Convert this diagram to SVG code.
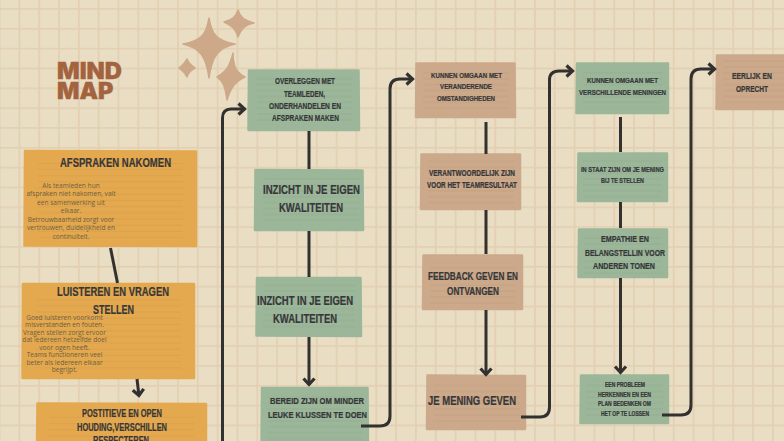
<svg xmlns="http://www.w3.org/2000/svg" width="784" height="441" viewBox="0 0 784 441">
<style>
.g{fill:#9cb699;stroke:#9cb699}.o{fill:#e4a84f;stroke:#e4a84f}.b{fill:#cca98a;stroke:#cca98a}
.g,.o,.b{stroke-width:2.5;stroke-linejoin:round}
text{font-family:"Liberation Sans",Arial,sans-serif;font-weight:700;fill:#363739;stroke:#363739;stroke-width:.22}
.s65{font-size:6.5px}.s75{font-size:7.500px}.s83{font-size:8.300px}.s88{font-size:8.800px}.s93{font-size:9.300px}.s105{font-size:10.500px}.s125{font-size:12.500px}.s13{font-size:13px}
text.p{font-family:"Open Sans",sans-serif;font-weight:400;font-size:6.600px;fill:#6f5f42;stroke:none;text-anchor:middle}
text.m{font-family:"Inter",sans-serif;font-weight:900;font-size:22.500px;fill:#a4633f;stroke:#a4633f;stroke-width:.3}
.c{fill:none;stroke:#33312f;stroke-width:3}
.a{marker-end:url(#chev)}
.star{fill:#cda98a;stroke:#cda98a;stroke-width:1.5;stroke-linejoin:round}
</style>
<defs>
<pattern id="grid" patternUnits="userSpaceOnUse" x="18.4" y="8.1" width="19.83" height="19.83"><path d="M0 0H1.800V19.83H0ZM0 0H19.83V1.800H0Z" fill="#e3d0b3"/></pattern>
<pattern id="rg" patternUnits="userSpaceOnUse" width="10" height="5.9"><path d="M0 2H10" stroke="#8eab8c" stroke-width=".7"/></pattern>
<pattern id="ro" patternUnits="userSpaceOnUse" width="10" height="6.2"><path d="M0 2H10" stroke="#d59e47" stroke-width=".7"/></pattern>
<pattern id="rb" patternUnits="userSpaceOnUse" width="10" height="5.9"><path d="M0 2H10" stroke="#c09c7e" stroke-width=".7"/></pattern>
<marker id="chev" markerUnits="userSpaceOnUse" markerWidth="16" markerHeight="16" viewBox="-10 -8 16 16" refX="0" refY="0" orient="auto"><path d="M-6.5-5.500L-.5 0L-6.500 5.500" fill="none" stroke="#33312f" stroke-width="3.200"/></marker>
</defs>
<rect width="784" height="441" fill="#e9dec3"/>
<rect width="784" height="441" fill="url(#grid)"/>
<g id="decor">
<path class="star" d="M209 18C212 36 218 41 235 44C218 48 212 56 209 78C206 56 200 48 183 44C200 41 206 36 209 18Z"/>
<path class="star" d="M238 10C240 17 244 20 254 23C245 25 241 29 238 37C236 29 232 26 224 22C232 20 236 17 238 10Z"/>
<path class="star" d="M187 59C188 63 191 65 195 68C191 70 188 73 187 77C185 73 183 71 179 68C183 65 185 63 187 59Z"/>
<path class="star" d="M233 53C233 66 236 72 245 77C236 81 231 87 227 100C225 87 224 82 217 77C226 72 230 66 233 53Z"/>
</g>
<g id="title"><text class="m" x="57" y="78.500" textLength="65" lengthAdjust="spacingAndGlyphs">MIND</text><text class="m" x="57" y="98.500" textLength="56.500" lengthAdjust="spacingAndGlyphs">MAP</text></g>

<g id="n1"><path class="o" d="M25 151L196 151.500L196 246L24.500 245.500Z"/><rect x="38" y="163" width="145" height="75" fill="url(#ro)"/>
<text class="s13" x="60" y="166.700" textLength="111" lengthAdjust="spacingAndGlyphs">AFSPRAKEN NAKOMEN</text>
<text class="p" x="71" y="187.500">Als teamleden hun</text><text class="p" x="71" y="196">afspraken niet nakomen, valt</text><text class="p" x="71" y="204.500">een samenwerking uit</text><text class="p" x="71" y="213">elkaar.</text><text class="p" x="71" y="221.500">Betrouwbaarheid zorgt voor</text><text class="p" x="71" y="230">vertrouwen, duidelijkheid en</text><text class="p" x="71" y="238.500">continuïteit.</text></g>
<g id="n2"><path class="o" d="M23 284L194 284L194 378L22.500 378Z"/><rect x="36" y="295" width="145" height="75" fill="url(#ro)"/>
<text class="s125" x="57" y="295.500" textLength="112" lengthAdjust="spacingAndGlyphs">LUISTEREN EN VRAGEN</text><text class="s125" x="93" y="313.500" textLength="41" lengthAdjust="spacingAndGlyphs">STELLEN</text>
<text class="p" x="64.500" y="319.500">Goed luisteren voorkomt</text><text class="p" x="64.500" y="327">misverstanden en fouten.</text><text class="p" x="64.500" y="334.500">Vragen stellen zorgt ervoor</text><text class="p" x="64.500" y="342">dat iedereen hetzelfde doel</text><text class="p" x="64.500" y="349.500">voor ogen heeft.</text><text class="p" x="64.500" y="357">Teams functioneren veel</text><text class="p" x="64.500" y="364.500">beter als iedereen elkaar</text><text class="p" x="64.500" y="372">begrijpt.</text></g>
<g id="n3"><path class="o" d="M37.500 403.500L206 404L206 445L37 445Z"/><rect x="49" y="415" width="145" height="30" fill="url(#ro)"/>
<text class="s105" x="82" y="417" textLength="80" lengthAdjust="spacingAndGlyphs">POSTITIEVE EN OPEN</text><text class="s105" x="77" y="431" textLength="90" lengthAdjust="spacingAndGlyphs">HOUDING,VERSCHILLEN</text><text class="s105" x="93" y="444" textLength="56" lengthAdjust="spacingAndGlyphs">RESPECTEREN</text></g>

<g id="n4"><path class="g" d="M249 70.500L358.500 70.500L359 130L248.500 130Z"/><rect x="257" y="76" width="95" height="49" fill="url(#rg)"/>
<text class="s88" x="275" y="84.200" textLength="60" lengthAdjust="spacingAndGlyphs">OVERLEGGEN MET</text><text class="s88" x="284" y="96.700" textLength="41" lengthAdjust="spacingAndGlyphs">TEAMLEDEN,</text><text class="s88" x="269" y="109" textLength="72" lengthAdjust="spacingAndGlyphs">ONDERHANDELEN EN</text><text class="s88" x="272" y="121" textLength="67" lengthAdjust="spacingAndGlyphs">AFSPRAKEN MAKEN</text></g>
<g id="n5"><path class="g" d="M255.500 170L362.500 170.500L363 230L255 230Z"/><rect x="263" y="177" width="96" height="47" fill="url(#rg)"/>
<text class="s13" x="263" y="193.700" textLength="97" lengthAdjust="spacingAndGlyphs">INZICHT IN JE EIGEN</text><text class="s13" x="279" y="211.700" textLength="64" lengthAdjust="spacingAndGlyphs">KWALITEITEN</text></g>
<g id="n6"><path class="g" d="M257 278L360.500 278L361 336L256.500 335.500Z"/><rect x="263" y="284" width="92" height="47" fill="url(#rg)"/>
<text class="s13" x="257" y="304.700" textLength="96" lengthAdjust="spacingAndGlyphs">INZICHT IN JE EIGEN</text><text class="s13" x="273" y="322.700" textLength="64" lengthAdjust="spacingAndGlyphs">KWALITEITEN</text></g>
<g id="n7"><path class="g" d="M262 388L367.500 388L368 450L261.500 450Z"/><rect x="268" y="393" width="94" height="57" fill="url(#rg)"/>
<text class="s93" x="270" y="404.300" textLength="94" lengthAdjust="spacingAndGlyphs">BEREID ZIJN OM MINDER</text><text class="s93" x="268" y="418.300" textLength="99" lengthAdjust="spacingAndGlyphs">LEUKE KLUSSEN TE DOEN</text></g>

<g id="n8"><path class="b" d="M416.500 63.500L514.500 63.500L515 117L416 117Z"/><rect x="423" y="69" width="86" height="44" fill="url(#rb)"/>
<text class="s75" x="431" y="77.700" textLength="71" lengthAdjust="spacingAndGlyphs">KUNNEN OMGAAN MET</text><text class="s75" x="440" y="89.200" textLength="52" lengthAdjust="spacingAndGlyphs">VERANDERENDE</text><text class="s75" x="437" y="100.700" textLength="58" lengthAdjust="spacingAndGlyphs">OMSTANDIGHEDEN</text></g>
<g id="n9"><path class="b" d="M421.500 154.500L520 154.500L520 209L421 209Z"/><rect x="428" y="160" width="86" height="46" fill="url(#rb)"/>
<text class="s83" x="429" y="176" textLength="86" lengthAdjust="spacingAndGlyphs">VERANTWOORDELIJK ZIJN</text><text class="s83" x="427" y="188" textLength="90" lengthAdjust="spacingAndGlyphs">VOOR HET TEAMRESULTAAT</text></g>
<g id="n10"><path class="b" d="M423.500 255.500L522 255.500L522 309L423 309Z"/><rect x="430" y="262" width="86" height="44" fill="url(#rb)"/>
<text class="s105" x="428" y="279.800" textLength="90" lengthAdjust="spacingAndGlyphs">FEEDBACK GEVEN EN</text><text class="s105" x="447" y="294.800" textLength="52" lengthAdjust="spacingAndGlyphs">ONTVANGEN</text></g>
<g id="n11"><path class="b" d="M427.500 375.500L525 376L525 429L427 429Z"/><rect x="434" y="381" width="86" height="44" fill="url(#rb)"/>
<text class="s125" x="428" y="405.200" textLength="88" lengthAdjust="spacingAndGlyphs">JE MENING GEVEN</text></g>

<g id="n12"><path class="g" d="M577 63.500L668 63.500L668 113L576.500 113Z"/><rect x="583" y="68" width="79" height="40" fill="url(#rg)"/>
<text class="s75" x="587" y="82.700" textLength="71" lengthAdjust="spacingAndGlyphs">KUNNEN OMGAAN MET</text><text class="s75" x="579" y="94.700" textLength="87" lengthAdjust="spacingAndGlyphs">VERSCHILLENDE MENINGEN</text></g>
<g id="n13"><path class="g" d="M578.500 153.500L667 153.500L667 201L578 201Z"/><rect x="583" y="158" width="79" height="40" fill="url(#rg)"/>
<text class="s75" x="581" y="171.700" textLength="83" lengthAdjust="spacingAndGlyphs">IN STAAT ZIJN OM JE MENING</text><text class="s75" x="601" y="182.700" textLength="43" lengthAdjust="spacingAndGlyphs">BIJ TE STELLEN</text></g>
<g id="n14"><path class="g" d="M579 229.500L667 229.500L667 277L578.500 277Z"/><rect x="584" y="234" width="78" height="40" fill="url(#rg)"/>
<text class="s93" x="601" y="242.300" textLength="48" lengthAdjust="spacingAndGlyphs">EMPATHIE EN</text><text class="s93" x="585" y="256.300" textLength="80" lengthAdjust="spacingAndGlyphs">BELANGSTELLIN VOOR</text><text class="s93" x="593" y="269.300" textLength="62" lengthAdjust="spacingAndGlyphs">ANDEREN TONEN</text></g>
<g id="n15"><path class="g" d="M581 375.500L668 375.500L668 423L580.500 423Z"/><rect x="586" y="380" width="77" height="39" fill="url(#rg)"/>
<text class="s65" x="605" y="387.400" textLength="40" lengthAdjust="spacingAndGlyphs">EEN PROBLEEM</text><text class="s65" x="598" y="396.700" textLength="53" lengthAdjust="spacingAndGlyphs">HERKENNEN EN EEN</text><text class="s65" x="598" y="406.200" textLength="53" lengthAdjust="spacingAndGlyphs">PLAN BEDENKEN OM</text><text class="s65" x="601" y="415.500" textLength="48" lengthAdjust="spacingAndGlyphs">HET OP TE LOSSEN</text></g>
<g id="n16"><path class="b" d="M717 55.500L790 55.500L790 109L716.500 109Z"/><rect x="723" y="60" width="61" height="45" fill="url(#rb)"/>
<text class="s93" x="732" y="79.300" textLength="40" lengthAdjust="spacingAndGlyphs">EERLIJK EN</text><text class="s93" x="736" y="91.500" textLength="32" lengthAdjust="spacingAndGlyphs">OPRECHT</text></g>

<g id="connectors">
<path class="c" d="M110.500 248L117.500 283"/>
<path class="c a" d="M137 379L139 396"/>
<path class="c a" d="M222.500 441V118Q222.500 109 231 109H245"/>
<path class="c" d="M309 131V169M309 231V277"/>
<path class="c a" d="M309 337V385"/>
<path class="c a" d="M361 426H380Q390 426 390 416V89Q390 79 400 79H413"/>
<path class="c" d="M486 122V154M486 210V254"/>
<path class="c a" d="M486 310V375"/>
<path class="c a" d="M521 417H540Q549.500 417 549.500 407V80Q549.500 71 559 71H573"/>
<path class="c" d="M620.500 117V152M620.500 202V228"/>
<path class="c a" d="M620.500 278V373"/>
<path class="c a" d="M662 415H681Q691 415 691 405V79Q691 69 701 69H715"/>
</g>
</svg>
